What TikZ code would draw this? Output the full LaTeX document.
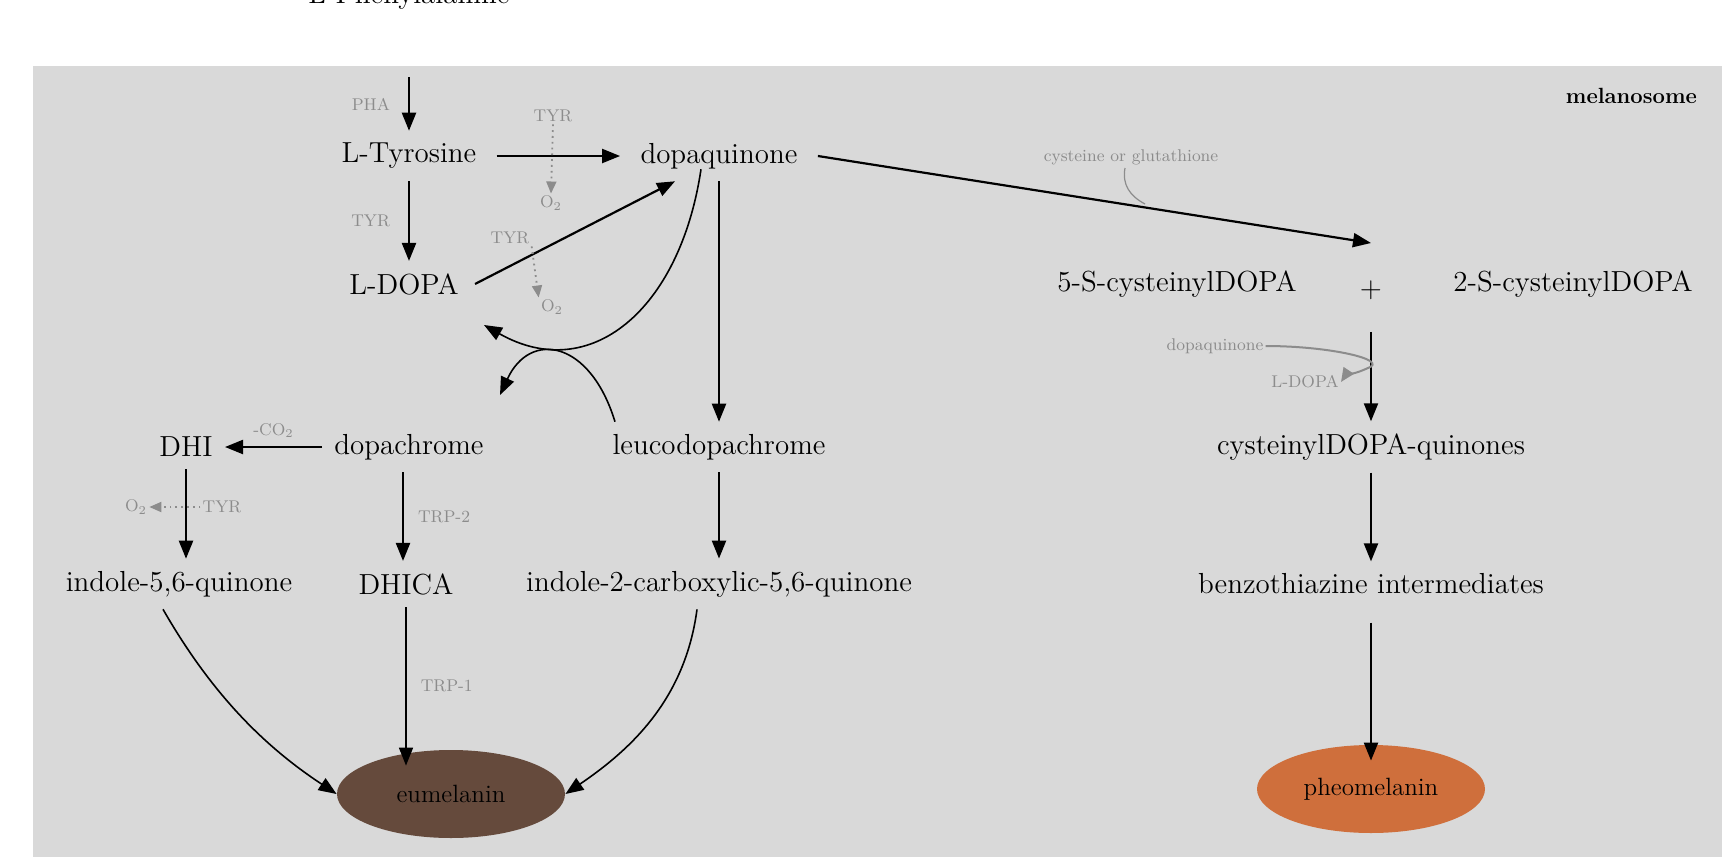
\documentclass[tikz,border=0pt]{standalone}
\usetikzlibrary{arrows.meta,shapes.geometric}
\definecolor{cellgrey}{HTML}{D9D9D9}
\definecolor{enzgrey}{HTML}{8C8C8C}
\definecolor{eubrown}{HTML}{654A3C}
\definecolor{pheoorange}{HTML}{CF6F3C}
\tikzset{
  mol/.style={inner sep=6pt, font=\fontsize{14.5}{17}\selectfont},
  enz/.style={inner sep=1pt, text=enzgrey, font=\fontsize{8.5}{10}\selectfont},
  rxn/.style={line width=1.1pt, -{Triangle[length=9pt,width=7pt]}},
  cof/.style={line width=0.9pt, enzgrey, dotted, -{Triangle[length=6pt,width=5pt]}},
  pig/.style={ellipse, minimum width=114pt, minimum height=44pt, inner sep=0pt,
    font=\fontsize{12.5}{14}\selectfont}
}
\begin{document}
\begin{tikzpicture}[x=0.5pt,y=-0.5pt]
    \useasboundingbox (0,0) rectangle (1726,863);
    % melanosome
    \fill[cellgrey] (33,66) rectangle (1722,857);
    \node[anchor=east, font=\fontsize{11}{13}\selectfont\bfseries] (mel) at (1704,96) {melanosome};

    % eumelanin branch
    \node[mol] (phe) at (409,-4) {L-Phenylalanine};
    \node[mol] (tyr) at (409,156) {L-Tyrosine};
    \node[mol] (dq) at (719,156) {dopaquinone};
    \node[mol] (dopa) at (404,284) {L-DOPA};
    \node[mol] (dc) at (409,447) {dopachrome};
    \node[mol] (dhi) at (186,447) {DHI};
    \node[mol] (ldc) at (719,447) {leucodopachrome};
    \node[mol] (iq) at (179,584) {indole-5,6-quinone};
    \node[mol] (dhica) at (406,584) {DHICA};
    \node[mol] (icq) at (719,584) {indole-2-carboxylic-5,6-quinone};
    \node[pig, fill=eubrown] (eu) at (451,794) {eumelanin};

    % pheomelanin branch
    \node[mol] (cd5) at (1177,284) {5-S-cysteinylDOPA};
    \node[mol] (plus) at (1371,290) {+};
    \node[mol] (cd2) at (1573,284) {2-S-cysteinylDOPA};
    \node[mol] (cq) at (1371,447) {cysteinylDOPA-quinones};
    \node[mol] (bt) at (1371,584) {benzothiazine intermediates};
    \node[pig, fill=pheoorange] (pheo) at (1371,789) {pheomelanin};

    % main steps
    \draw[rxn] ([yshift=-28pt]phe.south) -- (tyr.north) node[enz, midway, left=8pt] {PHA};
    \draw[rxn] ([xshift=4pt]tyr.east) -- ([xshift=-4pt]dq.west);
    \draw[rxn] (tyr.south) -- (tyr.south |- dopa.north) node[enz, midway, left=8pt] {TYR};
    \draw[rxn] ([xshift=2pt]dopa.east) -- ([xshift=-22pt]dq.south);
    \draw[rxn] (dq.south) -- (ldc.north);
    \draw[rxn, line width=0.8pt] ([xshift=-9pt,yshift=6pt]dq.south) .. controls (680,310) and (590,385) .. (484,325);
    \draw[rxn, line width=0.8pt] ([xshift=-52pt]ldc.north) .. controls (590,340) and (530,330) .. (500,395);
    \draw[rxn] (dc.west) -- (dhi.east) node[enz, midway, above=3pt] {-CO$_2$};
    \draw[rxn] (dhi.south) -- (dhi.south |- iq.north);
    \draw[rxn] ([xshift=-3pt]dc.south) -- ([xshift=-3pt]dc.south |- dhica.north) node[enz, midway, right=6pt] {TRP-2};
    \draw[rxn] (ldc.south) -- (icq.north);
    \draw[rxn, line width=0.8pt] ([xshift=-8pt]iq.south) .. controls (215,700) and (270,750) .. (eu.west);
    \draw[rxn, line width=0.8pt] (dhica.south) -- ([yshift=-8pt]dhica.south |- eu.north) node[enz, midway, right=6pt] {TRP-1};
    \draw[rxn, line width=0.8pt] ([xshift=-11pt]icq.south) .. controls (685,700) and (630,750) .. (eu.east);

    % side reactants
    \node[enz] (tyr1) at (553,116) {TYR};
    \node[enz] (o21) at (551,203) {O$_2$};
    \draw[cof] (tyr1.south) -- (o21.north);
    \node[enz] (tyr2) at (510,238) {TYR};
    \node[enz] (o22) at (552,307) {O$_2$};
    \draw[cof] (tyr2.south east) -- (o22.north west);
    \node[enz] (tyr3) at (222,507) {TYR};
    \node[enz] (o23) at (136,507) {O$_2$};
    \draw[cof] (tyr3.west) -- (o23.east);

    % pheomelanin steps
    \node[enz] (cys) at (1131,157) {cysteine or glutathione};
    \draw[rxn] ([xshift=4pt]dq.east) -- (1371,243);
    \draw[enzgrey, line width=0.6pt] (1125,168) .. controls (1122,185) and (1130,196) .. (1145,204);
    \draw[rxn] ([yshift=-10pt]plus.south) -- (cq.north);
    \node[enz] (dq2) at (1215,346) {dopaquinone};
    \node[enz] (dopa2) at (1305,382) {L-DOPA};
    \draw[enzgrey, line width=1pt, -{Triangle[length=7pt,width=6pt]}] (dq2.east) .. controls (1330,346) and (1390,360) .. (1368,368) .. controls (1355,374) and (1345,376) .. (dopa2.east);
    \draw[rxn] (cq.south) -- (bt.north);
    \draw[rxn] ([yshift=-8pt]bt.south) -- ([yshift=-8pt]pheo.north);
\end{tikzpicture}
\end{document}
